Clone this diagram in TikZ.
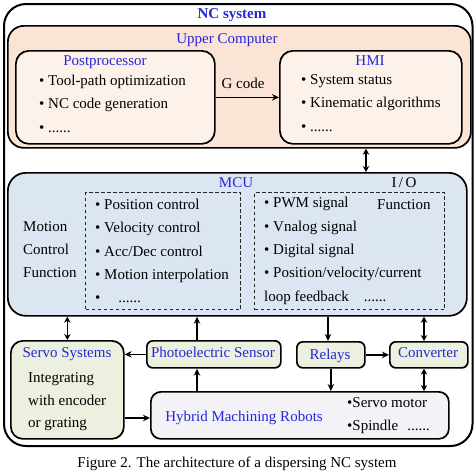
\documentclass[tikz,border=0pt]{standalone}
\usepackage{fontspec}
\setmainfont{Liberation Serif}
\usetikzlibrary{arrows.meta}
\definecolor{ncblue}{HTML}{2626D9}
\definecolor{peach}{HTML}{FBE4D5}
\definecolor{peachlight}{HTML}{FDF2EA}
\definecolor{mcublue}{HTML}{DCE6F2}
\definecolor{greenbox}{HTML}{EBF1DE}
\definecolor{hybridfill}{HTML}{F3F3F7}
\begin{document}
\begin{tikzpicture}[x=1pt,y=-1pt,
  font=\fontsize{15}{18}\selectfont,
  frame/.style={draw=black, line width=1.7pt, rounded corners=#1, inner sep=0pt, anchor=north west},
  dashbox/.style={draw=black!85, line width=1pt, dash pattern=on 3.5pt off 2.5pt, inner sep=0pt, anchor=north west},
  ttl/.style={text=ncblue, inner sep=0pt, anchor=base},
  txt/.style={inner sep=0pt, anchor=base west},
  arr/.style={line width=1.4pt, -{Stealth[length=7pt,width=6.5pt]}},
  dbl/.style={line width=1.4pt, {Stealth[length=6pt,width=6.5pt]}-{Stealth[length=6pt,width=6.5pt]}}]
\useasboundingbox (0,0) rectangle (474,472);
% frames
\node[frame=22pt, line width=2pt, minimum width=468.5pt, minimum height=442pt] (nc) at (3,3) {};
\node[frame=16pt, fill=peach, minimum width=463pt, minimum height=122pt] (upper) at (7,25) {};
\node[frame=13pt, fill=peachlight, minimum width=199pt, minimum height=93pt] (post) at (15,50) {};
\node[frame=13pt, fill=peachlight, minimum width=182pt, minimum height=93pt] (hmi) at (279,50) {};
\node[frame=18pt, fill=mcublue, minimum width=459pt, minimum height=143pt] (mcu) at (7,172) {};
\node[dashbox, minimum width=155pt, minimum height=117pt] (dl) at (85,192) {};
\node[dashbox, minimum width=190pt, minimum height=117pt] (dr) at (254,192) {};
\node[frame=12pt, fill=greenbox, minimum width=113pt, minimum height=98pt] (servo) at (10,340) {};
\node[frame=6pt, fill=greenbox, minimum width=134pt, minimum height=27pt] (photo) at (146,340) {};
\node[frame=6pt, fill=greenbox, minimum width=68pt, minimum height=26pt] (relays) at (296,341) {};
\node[frame=6pt, fill=greenbox, minimum width=78pt, minimum height=26pt] (conv) at (389,341) {};
\node[frame=10pt, fill=hybridfill, minimum width=298pt, minimum height=47pt] (hyb) at (150,391) {};
% titles
\node[ttl, font=\fontsize{15}{18}\selectfont\bfseries] (tnc) at (232,18) {NC system};
\node[ttl] (tup) at (227,43) {Upper Computer};
\node[ttl] (tpost) at (105,65) {Postprocessor};
\node[ttl] (thmi) at (370,65) {HMI};
\node[ttl] (tmcu) at (236,187) {MCU};
\node[inner sep=0pt, anchor=base] (tio) at (404,187) {I\,/\,O};
\node[ttl] (tservo) at (67,357) {Servo Systems};
\node[ttl] (tphoto) at (213,357) {Photoelectric Sensor};
\node[ttl] (trel) at (330,359) {Relays};
\node[ttl] (tconv) at (428,357) {Converter};
\node[ttl] (thyb) at (244,421) {Hybrid Machining Robots};
% postprocessor list
\node[txt] (p1) at (39,85) {• Tool-path optimization};
\node[txt] (p2) at (39,108) {• NC code generation};
\node[txt] (p3) at (39,132) {• ......};
% hmi list
\node[txt] (h1) at (301,84) {• System status};
\node[txt] (h2) at (301,107) {• Kinematic algorithms};
\node[txt] (h3) at (301,131) {• ......};
\node[inner sep=0pt, anchor=base] (gcode) at (243,88) {G code};
% motion control
\node[txt] (m1) at (23,231) {Motion};
\node[txt] (m2) at (23,254) {Control};
\node[txt] (m3) at (23,277) {Function};
\node[txt] (l1) at (95,209) {• Position control};
\node[txt] (l2) at (95,232) {• Velocity control};
\node[txt] (l3) at (95,256) {• Acc/Dec control};
\node[txt] (l4) at (95,279) {• Motion interpolation};
\node[txt] (l5) at (95,302) {•\hspace{1.2em}......};
% io
\node[txt] (r1) at (264,207) {• PWM signal};
\node[txt] (rf) at (377,209) {Function};
\node[txt] (r2) at (264,231) {• Vnalog signal};
\node[txt] (r3) at (264,254) {• Digital signal};
\node[txt] (r4) at (264,277) {• Position/velocity/current};
\node[txt] (r5) at (264,301) {loop feedback\hspace{1em}......};
% servo text
\node[txt] (s1) at (28,382) {Integrating};
\node[txt] (s2) at (28,405) {with encoder};
\node[txt] (s3) at (28,427) {or grating};
% hybrid text
\node[txt] (y1) at (347,407) {•Servo motor};
\node[txt] (y2) at (347,430) {•Spindle\hspace{0.6em}......};
% caption
\node[inner sep=0pt, anchor=base] (cap) at (237,467) {Figure 2. The architecture of a dispersing NC system};
% helper coordinates
\coordinate (xh) at (366,0);
\coordinate (xp) at (197,0);
\coordinate (xc) at (424,0);
\coordinate (xr) at (328,0);
\coordinate (ys) at (0,418);
% connectors
\draw[arr] (post.east) -- (hmi.west);
\draw[dbl] (upper.south -| xh) -- (mcu.north -| xh);
\draw[dbl] (mcu.south -| servo.north) -- (servo.north);
\draw[arr] (photo.north -| xp) -- (mcu.south -| xp);
\draw[arr] (photo.west) -- (photo.west -| servo.east);
\draw[arr] (mcu.south -| xr) -- (relays.north -| xr);
\draw[dbl] (mcu.south -| xc) -- (conv.north -| xc);
\draw[arr] (relays.east) -- (conv.west);
\draw[arr] (relays.south) -- (relays.south |- hyb.north);
\draw[dbl] (conv.south -| xc) -- (hyb.north -| xc);
\draw[arr] (hyb.north -| xp) -- (photo.south -| xp);
\draw[arr] (servo.east |- ys) -- (hyb.west |- ys);
\end{tikzpicture}
\end{document}
